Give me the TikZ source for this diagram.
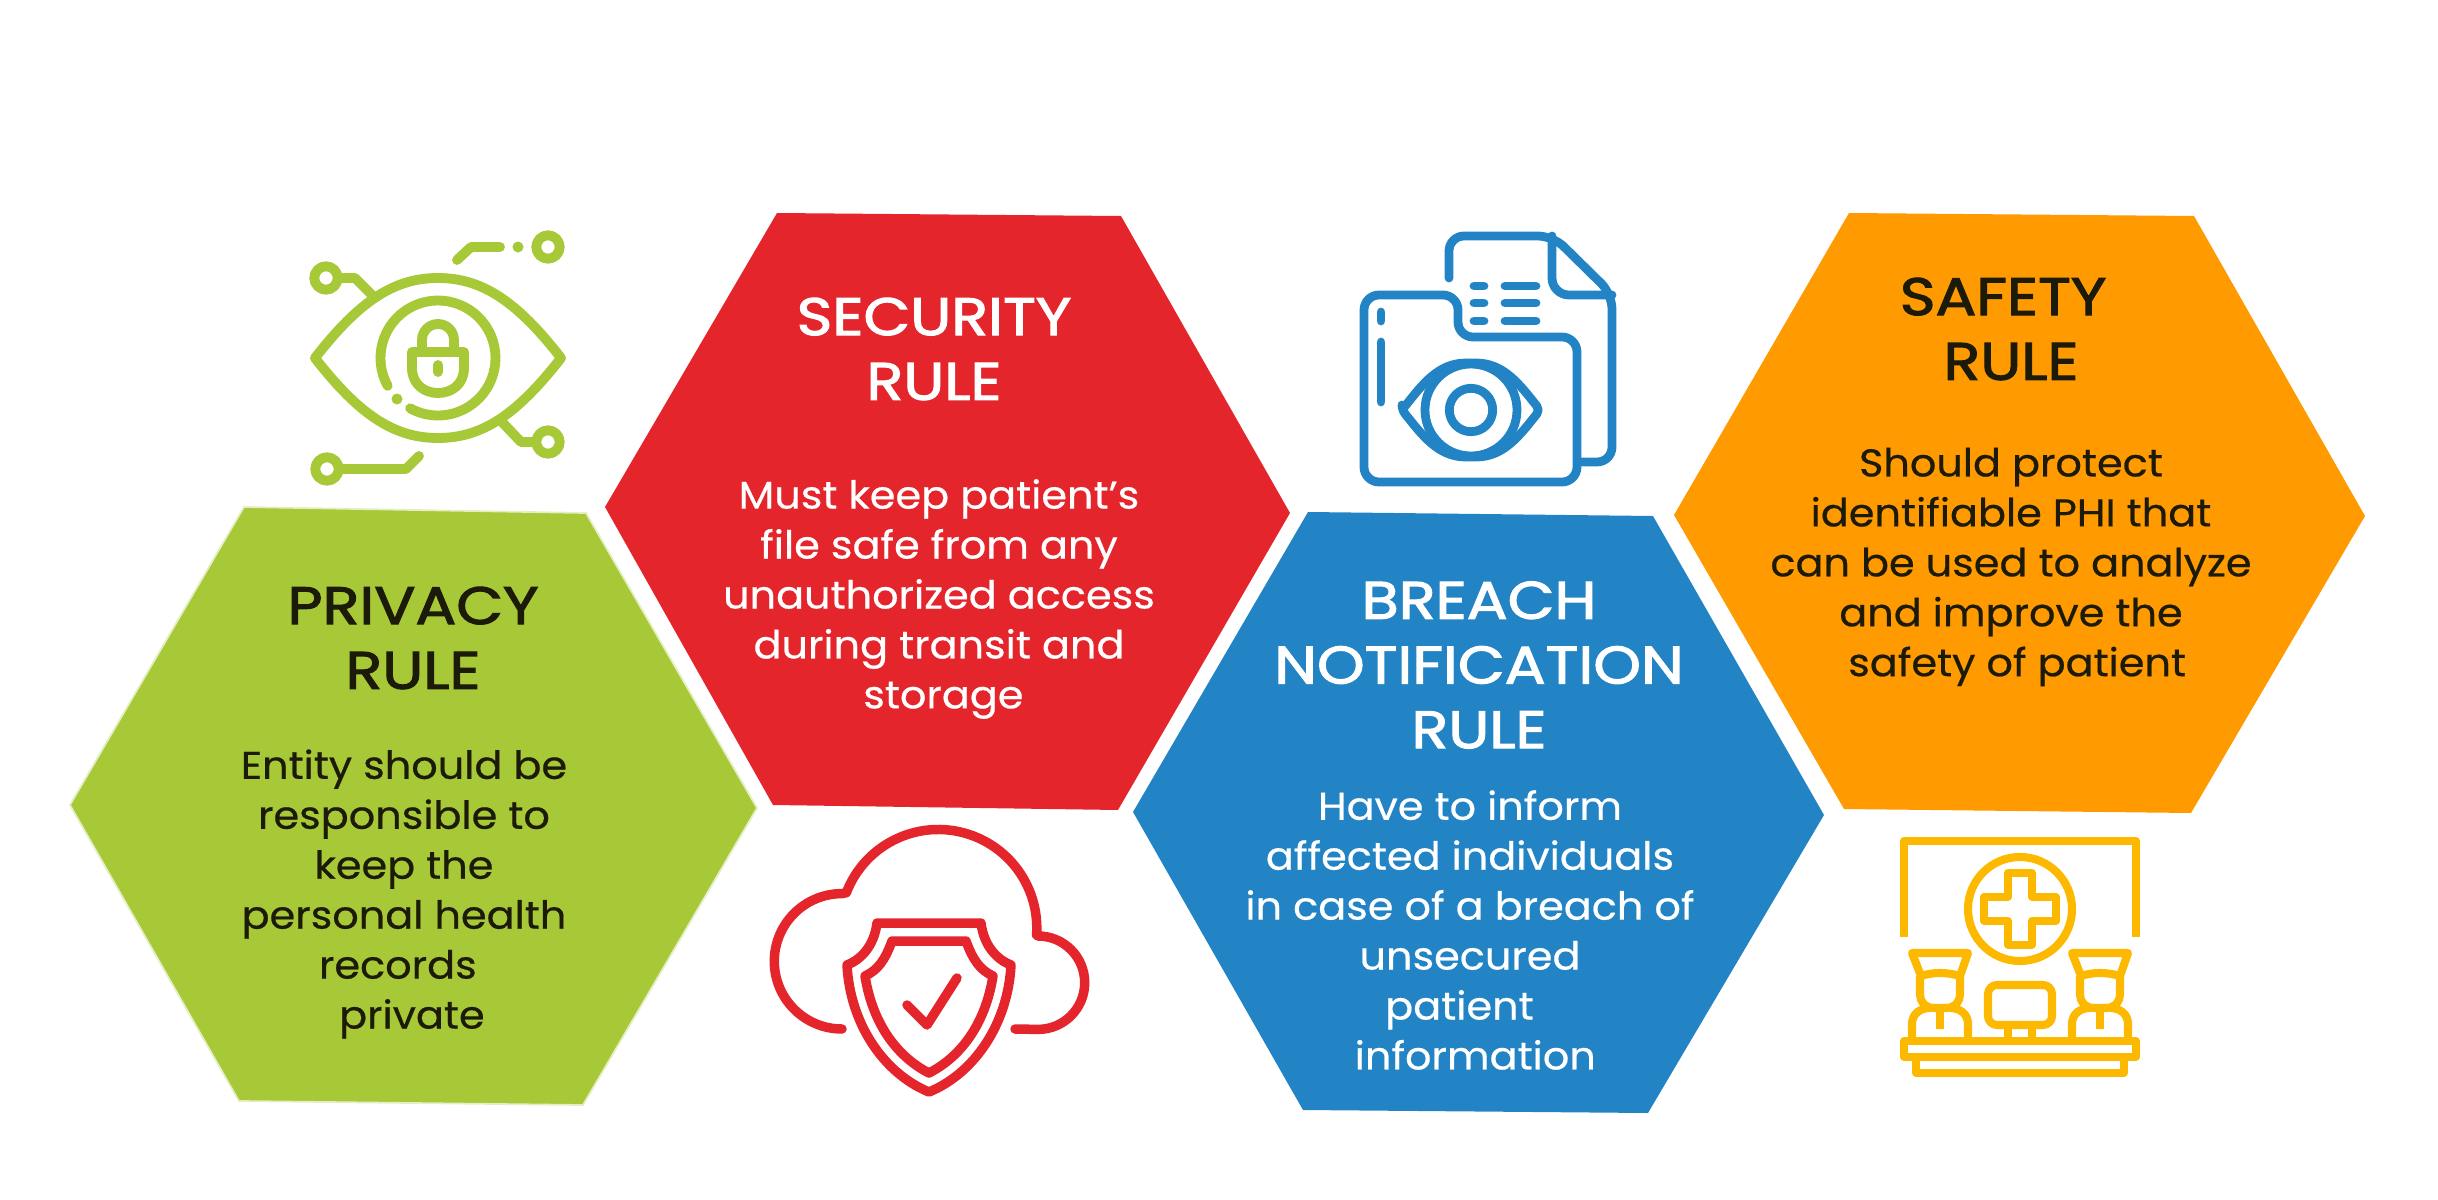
\documentclass[tikz,border=0pt]{standalone}
\usepackage{fontspec}
\setmainfont{Poppins}
\newfontfamily\ruletitlefont[FakeStretch=1.15,FakeBold=2.2]{Poppins}
\newfontfamily\rulebodyfont[FakeStretch=1.07,FakeBold=.5]{Poppins}
\usepackage{xcolor}
\definecolor{privgreen}{HTML}{A7C837}
\definecolor{secred}{HTML}{E4252C}
\definecolor{breachblue}{HTML}{2284C5}
\definecolor{safeorange}{HTML}{FF9A00}
\definecolor{iconyellow}{HTML}{FDB900}
\definecolor{darktext}{HTML}{1C1A08}
\tikzset{
  ruletitle/.style={align=center,font=\ruletitlefont\fontsize{15}{18.4}\selectfont,inner sep=0pt},
  rulebody/.style={align=center,font=\rulebodyfont\fontsize{11}{14.2}\selectfont,inner sep=0pt},
  iconline/.style={line cap=round,line join=round,line width=#1},
  iconline/.default=2.8pt
}
\begin{document}
\begin{tikzpicture}[x=.01cm,y=-.01cm]
\useasboundingbox (0,0) rectangle (2438,1200);
% hexagons
\fill[privgreen,draw=privgreen!30,line width=.5pt] (70,805)--(244,507)--(586,513)--(757,808)--(583,1105)--(239,1101)--cycle;
\fill[secred] (605,507)--(777,213)--(1121,216)--(1290,513)--(1118,810)--(773,805)--cycle;
\fill[breachblue] (1133,812)--(1308,512)--(1653,516)--(1824,815)--(1648,1113)--(1303,1110)--cycle;
\fill[safeorange] (1674,515)--(1849,213)--(2194,216)--(2365,516)--(2191,813)--(1844,809)--cycle;
% texts
\node[ruletitle,text=darktext] (privacytitle) at (413,638) {PRIVACY\\RULE};
\node[rulebody,text=darktext] (privacybody) at (404,894) {Entity should be\\responsible to\\keep the\\personal health\\\hspace*{-3.5pt}records\\\hspace*{4.5pt}private};
\node[ruletitle,text=white] (securitytitle) at (934,349) {SECURITY\\RULE};
\node[rulebody,text=white] (securitybody) at (939,599) {Must keep patient’s\\file safe from any\\unauthorized access\\during transit and\\\hspace*{2.5pt}storage};
\node[ruletitle,text=white] (breachtitle) at (1479,665) {BREACH\\NOTIFICATION\\RULE};
\node[rulebody,text=white] (breachbody) at (1470,930) {Have to inform\\affected individuals\\in case of a breach of\\unsecured\\\hspace*{-6pt}patient\\\hspace*{3pt}information};
\node[ruletitle,text=darktext] (safetytitle) at (2011,329) {\hspace*{-4.5pt}SAFETY\\RULE};
\node[rulebody,text=darktext] (safetybody) at (2011,567) {Should protect\\identifiable PHI that\\can be used to analyze\\and improve the\\\hspace*{3.5pt}safety of patient};
% eye with lock
\begin{scope}[privgreen,iconline]
\draw (315,358) .. controls (360,300) and (395,278) .. (438,278) .. controls (481,278) and (516,300) .. (561,358) .. controls (516,416) and (481,438) .. (438,438) .. controls (395,438) and (360,416) .. (315,358) -- cycle;
\draw ([shift={(151:57.5)}]438,358) arc (151:479:57.5);
\fill (397,399) circle(5.5);
\draw (412,352) -- (412,368) .. controls (412,384) and (424,393) .. (438,393) .. controls (452,393) and (464,384) .. (464,368) -- (464,352) -- cycle;
\draw (422,348) -- (422,340) arc (180:360:16) -- (454,348);
\draw (438,365) -- (438,372);
\draw (326,278) circle(11.7);
\draw (342,278) -- (355,278) -- (373,296);
\draw (548,247) circle(11.7);
\fill (518,247) circle(5.5);
\draw (457,260) -- (471,247) -- (500,247);
\draw (548,442) circle(11.7);
\draw (532,442) -- (521,442) -- (502,422);
\draw (327,469) circle(11.7);
\draw (343,469) -- (406,469) -- (419,456);
\end{scope}
% folder with eye
\begin{scope}[breachblue,iconline=2.5pt]
\draw[rounded corners=.15cm] (1449,278) -- (1449,236) -- (1553,236) -- (1612,294) -- (1612,462) -- (1582,462);
\draw[rounded corners=.17cm] (1552,236) -- (1552,295) -- (1612,295);
\foreach \rowy in {286,303,321} {
  \draw (1474,\rowy) -- (1484,\rowy);
  \draw (1505,\rowy) -- (1536,\rowy);
}
\draw[rounded corners=.15cm] (1445,295) -- (1364,295) -- (1364,482) -- (1577,482) -- (1577,337) -- (1458,337) -- (1458,295) -- (1440,295);
\draw (1381,312) -- (1381,321);
\draw (1381,342) -- (1381,402);
\draw[rounded corners=.05cm] (1402,410) .. controls (1422,385) and (1438,363) .. (1471,363) .. controls (1504,363) and (1520,385) .. (1540,410) .. controls (1520,435) and (1504,457) .. (1471,457) .. controls (1438,457) and (1422,435) .. (1402,410) -- cycle;
\draw (1471,410) circle(46);
\draw (1471,410) circle(21.7);
\end{scope}
% cloud with shield
\begin{scope}[secred,iconline=2.7pt]
\draw (842,1029) arc (90:270:67.7) -- ([shift={(201:98.5)}]938.3,928) arc (201:364:98.5) -- (1038,936) arc (270:450:46.7) -- (1015,1029);
\draw (877,923) -- (981,923) .. controls (984,947) and (998,960) .. (1011,965) .. controls (1008,1023) and (975,1073) .. (929,1092) .. controls (883,1073) and (850,1023) .. (847,965) .. controls (860,960) and (874,947) .. (877,923) -- cycle;
\draw (892,941) -- (966,941) .. controls (973,960) and (980,970) .. (993,976) .. controls (986,1020) and (964,1055) .. (929,1073) .. controls (894,1055) and (872,1020) .. (865,976) .. controls (878,970) and (885,960) .. (892,941) -- cycle;
\draw (907,1005) -- (927,1025) -- (957,978);
\end{scope}
% reception desk
\begin{scope}[iconyellow,iconline=2.3pt,line cap=butt]
\draw (1904,937) -- (1904,841) -- (2136,841) -- (2136,937);
\draw (2020,909) circle(52);
\draw (2008,873) -- (2032,873) -- (2032,897) -- (2056,897) -- (2056,921) -- (2032,921) -- (2032,945) -- (2008,945) -- (2008,921) -- (1984,921) -- (1984,897) -- (2008,897) -- cycle;
\draw (1904,1041) rectangle (2136,1057);
\draw (1916,1057) rectangle (2124,1073);
\draw[rounded corners=.09cm] (1988,985) rectangle (2052,1025);
\draw (2008,1025) -- (2008,1041);
\draw (2032,1025) -- (2032,1041);
\foreach \px in {0,160} {
  \begin{scope}[xshift=\px*.01cm]
  \draw (1912,953) -- (1968,953) -- (1960,976) .. controls (1947,972) and (1933,972) .. (1921,976) -- cycle;
  \draw (1920,976) -- (1920,995) .. controls (1920,1002) and (1926,1008) .. (1933,1008) -- (1947,1008) .. controls (1954,1008) and (1960,1002) .. (1960,995) -- (1960,976);
  \draw (1912,1041) -- (1912,1024) .. controls (1912,1014) and (1920,1008) .. (1930,1008);
  \draw (1968,1041) -- (1968,1024) .. controls (1968,1014) and (1960,1008) .. (1950,1008);
  \draw (1940,1008) -- (1940,1029);
  \end{scope}
}
\end{scope}
\end{tikzpicture}
\end{document}
